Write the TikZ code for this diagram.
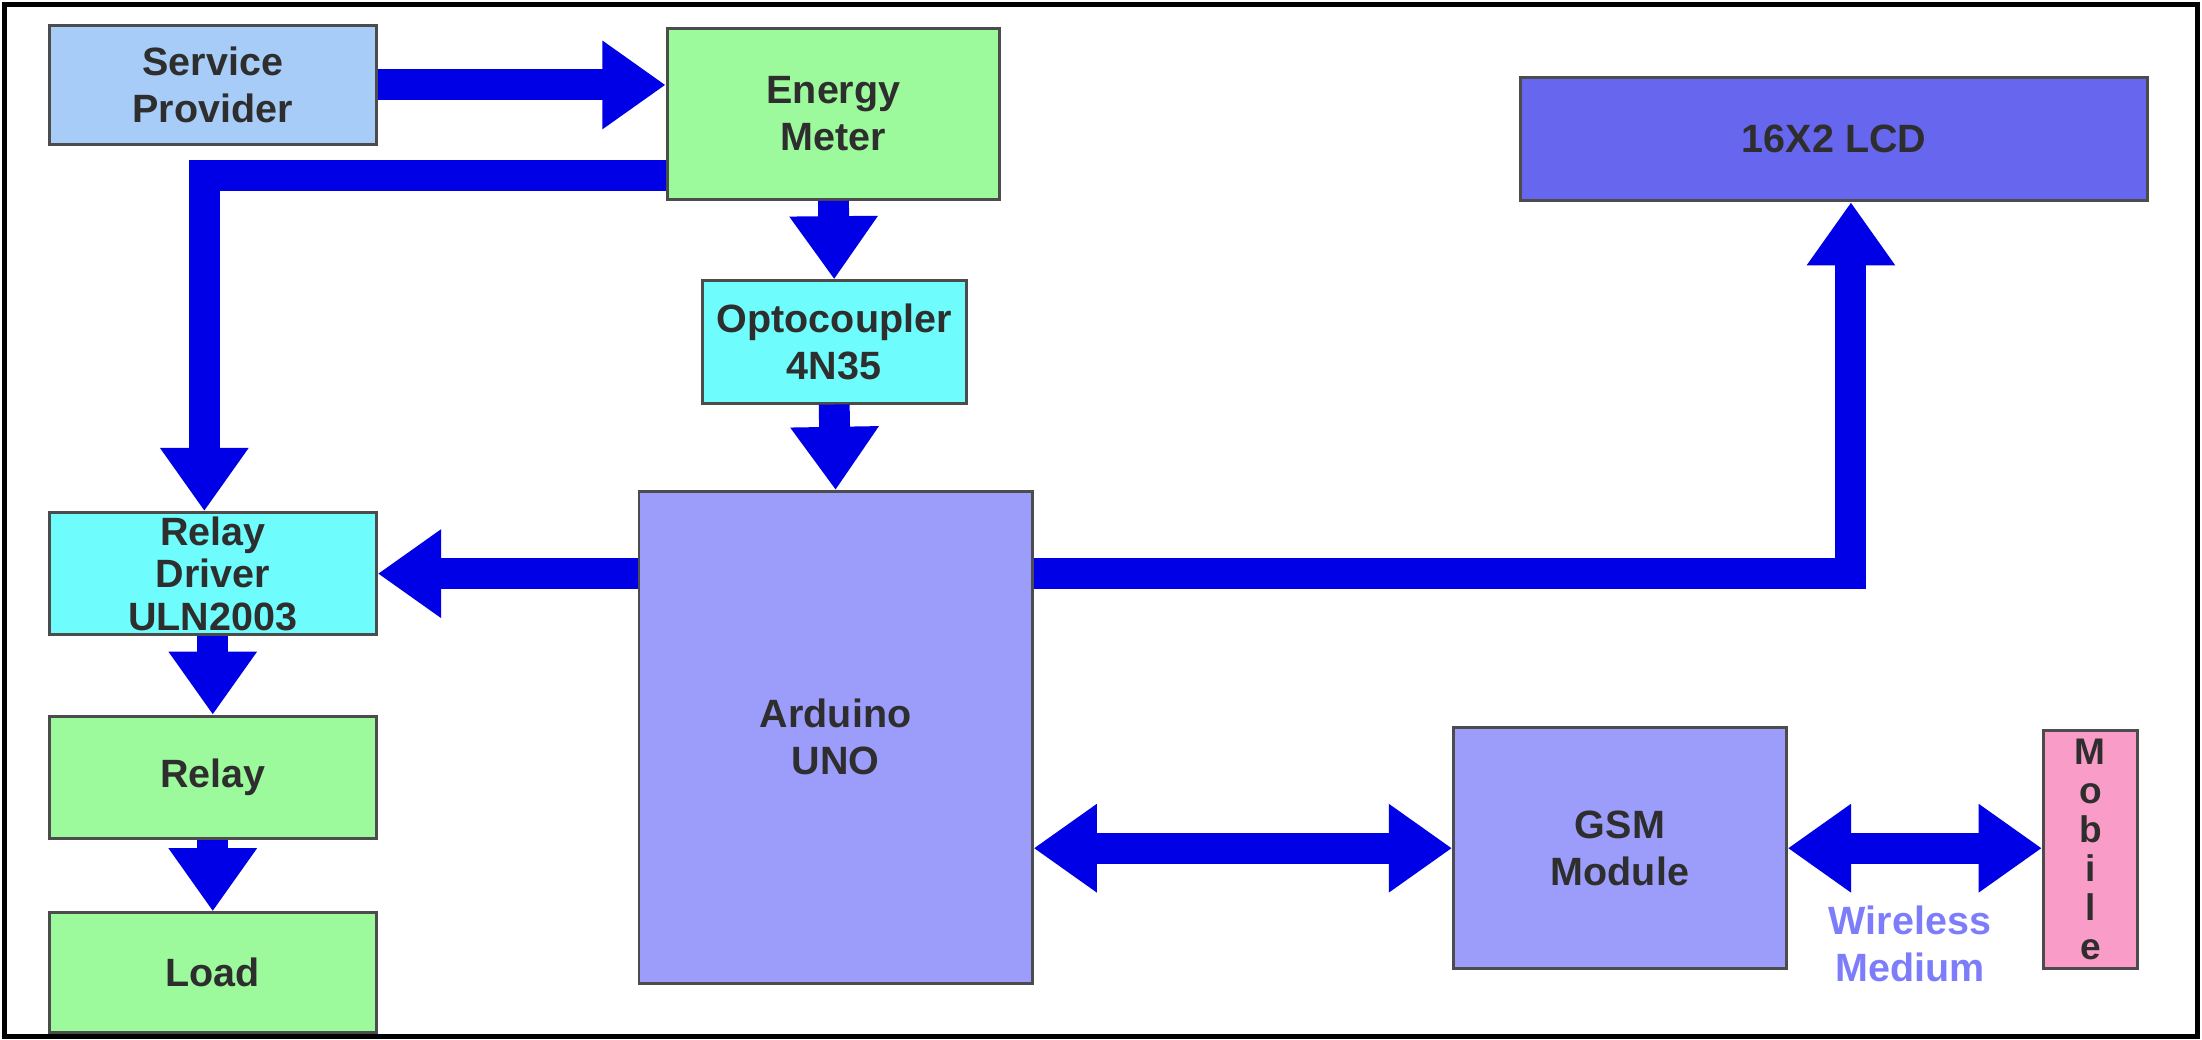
\documentclass[tikz,border=0pt]{standalone}
\usepackage{fontspec}
\setmainfont{Liberation Sans}
\usetikzlibrary{positioning,arrows.meta}
\definecolor{spblue}{HTML}{A6CCF7}
\definecolor{mgreen}{HTML}{9CFA9C}
\definecolor{lcdblue}{HTML}{6666EE}
\definecolor{ocyan}{HTML}{6EFCFC}
\definecolor{lav}{HTML}{9C9CFA}
\definecolor{mpink}{HTML}{FA9CC8}
\definecolor{band}{HTML}{0000E6}
\definecolor{txt}{HTML}{2E2E2E}
\begin{document}
\begin{tikzpicture}[
            block/.style={rectangle, draw=black!70, line width=0.6pt, align=center, text=txt,
              font=\fontsize{8}{9.5}\selectfont\bfseries, inner sep=0pt},
            arrow/.style={-{Triangle[width=0.6cm,length=0.45cm]}, line width=0.22cm, band},
            darrow/.style={{Triangle[width=0.6cm,length=0.45cm]}-{Triangle[width=0.6cm,length=0.45cm]}, line width=0.22cm, band}
        ]
        \useasboundingbox (0,0) rectangle (15.68,7.40);
        \draw[line width=1pt] (0.03,0.02) rectangle (15.65,7.37);

        \node[block, fill=spblue, minimum width=2.33cm, minimum height=0.85cm] (sp) at (1.515,6.795) {Service\\Provider};
        \node[block, fill=mgreen, minimum width=2.37cm, minimum height=1.22cm] (em) at (5.935,6.59) {Energy\\Meter};
        \node[block, fill=lcdblue, minimum width=4.46cm, minimum height=0.88cm] (lcd) at (13.06,6.41) {16X2 LCD};
        \node[block, fill=ocyan, minimum width=1.88cm, minimum height=0.87cm] (opto) at (5.94,4.965) {Optocoupler\\4N35};
        \node[block, fill=lav, minimum width=2.80cm, minimum height=3.50cm] (ard) at (5.95,2.15) {Arduino\\UNO};
        \node[block, fill=ocyan, minimum width=2.33cm, minimum height=0.87cm,
              font=\fontsize{8}{8.6}\selectfont\bfseries] (rd) at (1.515,3.315) {Relay\\Driver\\ULN2003};
        \node[block, fill=mgreen, minimum width=2.33cm, minimum height=0.87cm] (relay) at (1.515,1.865) {Relay};
        \node[block, fill=mgreen, minimum width=2.33cm, minimum height=0.85cm] (load) at (1.515,0.475) {Load};
        \node[block, fill=lav, minimum width=2.37cm, minimum height=1.72cm] (gsm) at (11.535,1.36) {GSM\\Module};
        \node[block, fill=mpink, minimum width=0.67cm, minimum height=1.70cm,
              font=\fontsize{7.5}{7.9}\selectfont\bfseries] (mob) at (14.885,1.35) {M\\o\\b\\i\\l\\e};
        \node[align=center, text=lav!80!blue, font=\fontsize{8}{9.5}\selectfont\bfseries] (wm) at (13.6,0.68) {Wireless\\Medium};

        \draw[arrow] (sp.east) -- (sp.east -| em.west);
        \draw[arrow] ([yshift=-0.44cm]em.west) -| ([xshift=-0.06cm]rd.north);
        \draw[arrow] (em.south) -- (opto.north);
        \draw[arrow] (opto.south) -- (ard.north);
        \draw[arrow] (ard.west |- rd.east) -- (rd.east);
        \draw[arrow] (ard.east |- rd.east) -| ([xshift=0.12cm]lcd.south);
        \draw[arrow] (rd.south) -- (relay.north);
        \draw[arrow] (relay.south) -- (load.north);
        \draw[darrow] (ard.east |- gsm.west) -- (gsm.west);
        \draw[darrow] (gsm.east) -- (gsm.east -| mob.west);
        \end{tikzpicture}
\end{document}
